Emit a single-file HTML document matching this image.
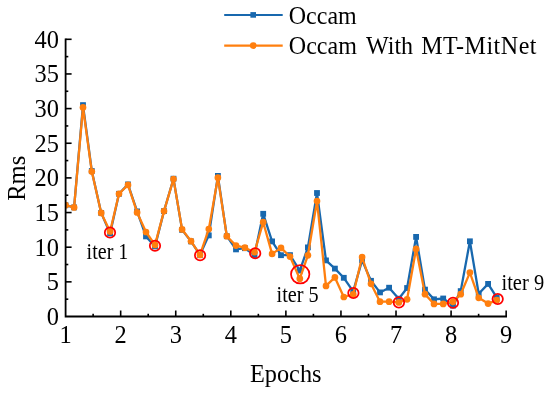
<!DOCTYPE html>
<html><head><meta charset="utf-8"><title>Rms vs Epochs</title>
<style>html,body{margin:0;padding:0;background:#fff;}body{width:550px;height:393px;overflow:hidden;}svg{display:block;}text{font-family:"Liberation Serif","Times New Roman",serif;fill:#000;}</style></head><body>
<svg width="550" height="393" viewBox="0 0 550 393">
<rect width="550" height="393" fill="#fff"/>
<clipPath id="pc"><rect x="65.6" y="39.3" width="441.4" height="277.2"/></clipPath>
<g clip-path="url(#pc)">
<polyline points="65.5,205.2 74.1,207.4 83,105.1 91.8,171 101.2,212.9 110.1,233.4 119,193.8 128,184.4 137.1,211.4 146,236.4 155,246.4 164,211.1 173.5,178.7 182.1,229.9 191,241.4 200,254.9 208.8,235.4 217.9,175.9 226.8,236.2 236,249.4 244.9,248.2 254.5,255 263.2,213.8 272.1,241.4 281,255.2 290,255.1 299.8,270.6 307.9,247.4 317,193 326,260.4 334.9,268.6 343.8,277.8 353.2,291.4 362.1,260.4 371,280.8 380,292.4 389.1,287.7 398.8,298.7 407.1,288 416.1,236.9 425,289.6 434,299.3 443.2,298.5 453,305.6 460.7,291.1 469.9,241.3 478.7,293.7 488.1,283.9 496.7,297.4" fill="none" stroke="#1868AE" stroke-width="2.3" stroke-linejoin="round"/>
<g fill="#1868AE">
<rect x="62.6" y="202.3" width="5.8" height="5.8"/>
<rect x="71.2" y="204.5" width="5.8" height="5.8"/>
<rect x="80.1" y="102.2" width="5.8" height="5.8"/>
<rect x="88.9" y="168.1" width="5.8" height="5.8"/>
<rect x="98.3" y="210" width="5.8" height="5.8"/>
<rect x="107.2" y="230.5" width="5.8" height="5.8"/>
<rect x="116.1" y="190.9" width="5.8" height="5.8"/>
<rect x="125.1" y="181.5" width="5.8" height="5.8"/>
<rect x="134.2" y="208.5" width="5.8" height="5.8"/>
<rect x="143.1" y="233.5" width="5.8" height="5.8"/>
<rect x="152.1" y="243.5" width="5.8" height="5.8"/>
<rect x="161.1" y="208.2" width="5.8" height="5.8"/>
<rect x="170.6" y="175.8" width="5.8" height="5.8"/>
<rect x="179.2" y="227" width="5.8" height="5.8"/>
<rect x="188.1" y="238.5" width="5.8" height="5.8"/>
<rect x="197.1" y="252" width="5.8" height="5.8"/>
<rect x="205.9" y="232.5" width="5.8" height="5.8"/>
<rect x="215" y="173" width="5.8" height="5.8"/>
<rect x="223.9" y="233.3" width="5.8" height="5.8"/>
<rect x="233.1" y="246.5" width="5.8" height="5.8"/>
<rect x="242" y="245.3" width="5.8" height="5.8"/>
<rect x="251.6" y="252.1" width="5.8" height="5.8"/>
<rect x="260.3" y="210.9" width="5.8" height="5.8"/>
<rect x="269.2" y="238.5" width="5.8" height="5.8"/>
<rect x="278.1" y="252.3" width="5.8" height="5.8"/>
<rect x="287.1" y="252.2" width="5.8" height="5.8"/>
<rect x="296.9" y="267.7" width="5.8" height="5.8"/>
<rect x="305" y="244.5" width="5.8" height="5.8"/>
<rect x="314.1" y="190.1" width="5.8" height="5.8"/>
<rect x="323.1" y="257.5" width="5.8" height="5.8"/>
<rect x="332" y="265.7" width="5.8" height="5.8"/>
<rect x="340.9" y="274.9" width="5.8" height="5.8"/>
<rect x="350.3" y="288.5" width="5.8" height="5.8"/>
<rect x="359.2" y="257.5" width="5.8" height="5.8"/>
<rect x="368.1" y="277.9" width="5.8" height="5.8"/>
<rect x="377.1" y="289.5" width="5.8" height="5.8"/>
<rect x="386.2" y="284.8" width="5.8" height="5.8"/>
<rect x="395.9" y="295.8" width="5.8" height="5.8"/>
<rect x="404.2" y="285.1" width="5.8" height="5.8"/>
<rect x="413.2" y="234" width="5.8" height="5.8"/>
<rect x="422.1" y="286.7" width="5.8" height="5.8"/>
<rect x="431.1" y="296.4" width="5.8" height="5.8"/>
<rect x="440.3" y="295.6" width="5.8" height="5.8"/>
<rect x="450.1" y="302.7" width="5.8" height="5.8"/>
<rect x="457.8" y="288.2" width="5.8" height="5.8"/>
<rect x="467" y="238.4" width="5.8" height="5.8"/>
<rect x="475.8" y="290.8" width="5.8" height="5.8"/>
<rect x="485.2" y="281" width="5.8" height="5.8"/>
<rect x="493.8" y="294.5" width="5.8" height="5.8"/>
</g>
<polyline points="65.5,205.2 74.1,207.4 83,107.4 91.8,171.6 101.2,212.9 110.1,231.4 119,193.8 128,184.9 137.1,212.4 146,232 155,244.9 164,211.1 173.5,179.1 182.1,229.4 191,241.2 200,254.9 208.8,229.1 217.9,177.7 226.8,236.2 236,245.6 244.9,247.7 254.5,252.2 263.2,222.2 272.1,253.9 281,247.9 290,256.6 299.8,278.7 307.9,255.3 317,201.1 326,285.9 334.9,277.4 343.8,297 353.2,294.4 362.1,257.1 371,283.8 380,301.7 389.1,301.7 398.8,302.4 407.1,299.3 416.1,248.9 425,294.2 434,303.9 443.2,303.9 453,301.8 460.7,294.2 469.9,272.6 478.7,297.8 488.1,303.6 496.7,300.2" fill="none" stroke="#FF7F0E" stroke-width="2.3" stroke-linejoin="round"/>
<g fill="#FF7F0E">
<circle cx="65.5" cy="205.2" r="3.35"/>
<circle cx="74.1" cy="207.4" r="3.35"/>
<circle cx="83" cy="107.4" r="3.35"/>
<circle cx="91.8" cy="171.6" r="3.35"/>
<circle cx="101.2" cy="212.9" r="3.35"/>
<circle cx="110.1" cy="231.4" r="3.35"/>
<circle cx="119" cy="193.8" r="3.35"/>
<circle cx="128" cy="184.9" r="3.35"/>
<circle cx="137.1" cy="212.4" r="3.35"/>
<circle cx="146" cy="232" r="3.35"/>
<circle cx="155" cy="244.9" r="3.35"/>
<circle cx="164" cy="211.1" r="3.35"/>
<circle cx="173.5" cy="179.1" r="3.35"/>
<circle cx="182.1" cy="229.4" r="3.35"/>
<circle cx="191" cy="241.2" r="3.35"/>
<circle cx="200" cy="254.9" r="3.35"/>
<circle cx="208.8" cy="229.1" r="3.35"/>
<circle cx="217.9" cy="177.7" r="3.35"/>
<circle cx="226.8" cy="236.2" r="3.35"/>
<circle cx="236" cy="245.6" r="3.35"/>
<circle cx="244.9" cy="247.7" r="3.35"/>
<circle cx="254.5" cy="252.2" r="3.35"/>
<circle cx="263.2" cy="222.2" r="3.35"/>
<circle cx="272.1" cy="253.9" r="3.35"/>
<circle cx="281" cy="247.9" r="3.35"/>
<circle cx="290" cy="256.6" r="3.35"/>
<circle cx="299.8" cy="278.7" r="3.35"/>
<circle cx="307.9" cy="255.3" r="3.35"/>
<circle cx="317" cy="201.1" r="3.35"/>
<circle cx="326" cy="285.9" r="3.35"/>
<circle cx="334.9" cy="277.4" r="3.35"/>
<circle cx="343.8" cy="297" r="3.35"/>
<circle cx="353.2" cy="294.4" r="3.35"/>
<circle cx="362.1" cy="257.1" r="3.35"/>
<circle cx="371" cy="283.8" r="3.35"/>
<circle cx="380" cy="301.7" r="3.35"/>
<circle cx="389.1" cy="301.7" r="3.35"/>
<circle cx="398.8" cy="302.4" r="3.35"/>
<circle cx="407.1" cy="299.3" r="3.35"/>
<circle cx="416.1" cy="248.9" r="3.35"/>
<circle cx="425" cy="294.2" r="3.35"/>
<circle cx="434" cy="303.9" r="3.35"/>
<circle cx="443.2" cy="303.9" r="3.35"/>
<circle cx="453" cy="301.8" r="3.35"/>
<circle cx="460.7" cy="294.2" r="3.35"/>
<circle cx="469.9" cy="272.6" r="3.35"/>
<circle cx="478.7" cy="297.8" r="3.35"/>
<circle cx="488.1" cy="303.6" r="3.35"/>
<circle cx="496.7" cy="300.2" r="3.35"/>
</g>
</g>
<g stroke="#000" stroke-width="1.8" fill="none" stroke-linecap="butt">
<path d="M65.6 38.45V316.5H507"/>
<g stroke-width="1.6">
<path d="M65.6 299.18h2.7"/>
<path d="M65.6 281.85h6.0"/>
<path d="M65.6 264.52h2.7"/>
<path d="M65.6 247.2h6.0"/>
<path d="M65.6 229.88h2.7"/>
<path d="M65.6 212.55h6.0"/>
<path d="M65.6 195.23h2.7"/>
<path d="M65.6 177.9h6.0"/>
<path d="M65.6 160.58h2.7"/>
<path d="M65.6 143.25h6.0"/>
<path d="M65.6 125.93h2.7"/>
<path d="M65.6 108.6h6.0"/>
<path d="M65.6 91.27h2.7"/>
<path d="M65.6 73.95h6.0"/>
<path d="M65.6 56.62h2.7"/>
<path d="M65.6 39.3h6.0"/>
<path d="M93.13 316.5v-2.7"/>
<path d="M120.67 316.5v-6.0"/>
<path d="M148.2 316.5v-2.7"/>
<path d="M175.74 316.5v-6.0"/>
<path d="M203.28 316.5v-2.7"/>
<path d="M230.81 316.5v-6.0"/>
<path d="M258.35 316.5v-2.7"/>
<path d="M285.88 316.5v-6.0"/>
<path d="M313.41 316.5v-2.7"/>
<path d="M340.95 316.5v-6.0"/>
<path d="M368.49 316.5v-2.7"/>
<path d="M396.02 316.5v-6.0"/>
<path d="M423.55 316.5v-2.7"/>
<path d="M451.09 316.5v-6.0"/>
<path d="M478.62 316.5v-2.7"/>
<path d="M506.16 316.5v-6.0"/>
</g></g>
<g>
<text transform="translate(58.9 324.80) scale(0.9397 1)" text-anchor="end" font-size="26px">0</text>
<text transform="translate(58.9 290.15) scale(0.9397 1)" text-anchor="end" font-size="26px">5</text>
<text transform="translate(58.9 255.50) scale(0.9397 1)" text-anchor="end" font-size="26px">10</text>
<text transform="translate(58.9 220.85) scale(0.9397 1)" text-anchor="end" font-size="26px">15</text>
<text transform="translate(58.9 186.20) scale(0.9397 1)" text-anchor="end" font-size="26px">20</text>
<text transform="translate(58.9 151.55) scale(0.9397 1)" text-anchor="end" font-size="26px">25</text>
<text transform="translate(58.9 116.90) scale(0.9397 1)" text-anchor="end" font-size="26px">30</text>
<text transform="translate(58.9 82.25) scale(0.9397 1)" text-anchor="end" font-size="26px">35</text>
<text transform="translate(58.9 47.60) scale(0.9397 1)" text-anchor="end" font-size="26px">40</text>
<text transform="translate(65.60 342.8) scale(0.9397 1)" text-anchor="middle" font-size="26px">1</text>
<text transform="translate(120.67 342.8) scale(0.9397 1)" text-anchor="middle" font-size="26px">2</text>
<text transform="translate(175.74 342.8) scale(0.9397 1)" text-anchor="middle" font-size="26px">3</text>
<text transform="translate(230.81 342.8) scale(0.9397 1)" text-anchor="middle" font-size="26px">4</text>
<text transform="translate(285.88 342.8) scale(0.9397 1)" text-anchor="middle" font-size="26px">5</text>
<text transform="translate(340.95 342.8) scale(0.9397 1)" text-anchor="middle" font-size="26px">6</text>
<text transform="translate(396.02 342.8) scale(0.9397 1)" text-anchor="middle" font-size="26px">7</text>
<text transform="translate(451.09 342.8) scale(0.9397 1)" text-anchor="middle" font-size="26px">8</text>
<text transform="translate(506.16 342.8) scale(0.9397 1)" text-anchor="middle" font-size="26px">9</text>
<text transform="translate(249.97 382.20) scale(0.9532 1)" font-size="25.5px">Epochs</text>
<text transform="translate(25.3 200.84) rotate(-90) scale(0.9474 1)" font-size="26px">Rms</text>
<text transform="translate(288.74 24.00) scale(0.9234 1)" font-size="26px">Occam</text>
<text transform="translate(0 54.1) scale(0.925 1)" font-size="26px"><tspan x="312.19">Occam </tspan><tspan x="395.70">With </tspan><tspan x="455.38" style="letter-spacing:0.54px">MT-MitNet</tspan></text>
<text transform="translate(86.60 258.70) scale(0.8717 1)" font-size="23px">iter 1</text>
<text transform="translate(276.60 302.00) scale(0.8803 1)" font-size="23px">iter 5</text>
<text transform="translate(501.49 289.50) scale(0.8911 1)" font-size="23px">iter 9</text>
</g>
<path d="M224.2 14.9H282.7" stroke="#1868AE" stroke-width="2.05"/><rect x="250.4" y="12.1" width="5.6" height="5.6" fill="#1868AE"/>
<path d="M224.2 45.6H282.7" stroke="#FF7F0E" stroke-width="2.05"/><circle cx="253.2" cy="45.6" r="3.3" fill="#FF7F0E"/>
<g fill="none" stroke="#FF0000" stroke-width="1.75">
<circle cx="110" cy="232.5" r="5.2"/>
<circle cx="155" cy="245.7" r="5.2"/>
<circle cx="200.1" cy="255.2" r="5.2"/>
<circle cx="255.2" cy="253.2" r="5.2"/>
<circle cx="300.2" cy="274.3" r="9.2"/>
<circle cx="353.4" cy="293" r="5.2"/>
<circle cx="398.9" cy="302.3" r="5.3"/>
<circle cx="453" cy="302.7" r="5.2"/>
<circle cx="497.7" cy="299" r="5.2"/>
</g>
</svg></body></html>
